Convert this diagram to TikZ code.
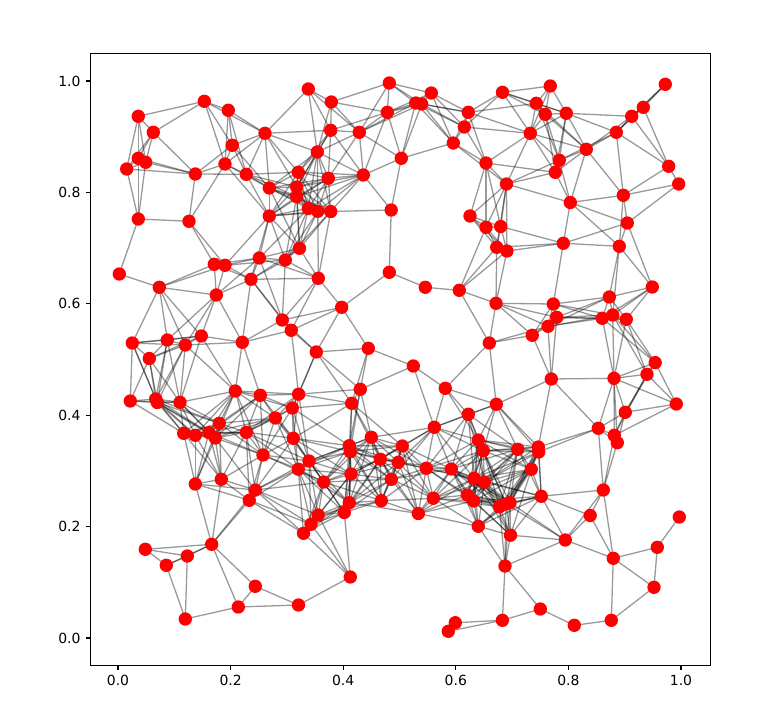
\documentclass[tikz,border=0pt]{standalone}
\usepackage{fontspec}
\setmainfont{DejaVu Sans}
\usepackage{tikz}
\usetikzlibrary{backgrounds}
\definecolor{pred}{HTML}{FF0000}
\newdimen\gdx
\newdimen\gdy

\begin{document}
\begin{tikzpicture}[x=0.03cm,y=-0.03cm,
    dot/.style={circle,fill=pred,inner sep=0pt,minimum size=0.4cm},
    link/.style={black,opacity=0.4,line width=1.1pt},
    axline/.style={black,line width=0.95pt},
    ticklabel/.style={font=\fontsize{11.9}{14}\selectfont,inner sep=0pt}]
  \useasboundingbox (0,0) rectangle (771,727);

  % Axes frame
  \draw[axline] (90.5,53.3) rectangle (710.3,665.5);

  % Ticks and labels
  \foreach \v [count=\k] in {0.0,0.2,0.4,0.6,0.8,1.0} {
    \pgfmathsetmacro\tx{118+563*\v}
    \pgfmathsetmacro\ty{638-557*\v}
    \draw[axline] (\tx,665.5) -- ++(0,4.9);
    \draw[axline] (90.5,\ty) -- ++(-4.9,0);
    \node[ticklabel,anchor=north] (xl\k) at (\tx,675.3) {\v};
    \node[ticklabel,anchor=east] (yl\k) at (80.7,\ty) {\v};
  }

  % Points (image pixels)
  \foreach \x/\y [count=\k] in {
      204.3/101.3, 138.3/116.3, 228.3/110.3, 153.3/132.3, 265/133.3, 232.3/145.3,
      138.3/158.3, 145.7/162.3, 126.7/169, 225/164, 195.3/174, 246.3/174.3,
      298.3/172.3, 269.3/188, 296.7/187, 296.7/196.7, 269.3/216, 308.3/89,
      389.3/83, 431.3/93, 502.5/92.3, 331.3/102, 415.7/103, 421.7/104,
      468.3/112.3, 387.3/112.3, 464.3/127, 330.7/130.3, 359.3/132.3, 453.3/143,
      317.3/152, 401.3/158.3, 486/163, 328.3/178.3, 363.3/175, 506.5/184,
      308.3/208.5, 317.8/211.3, 330.7/211.5, 391.2/210,
      550.3/86, 665.3/84.3, 536.3/103.3, 545.3/114.3, 566.3/113.3, 643.3/107.3,
      631.7/116.3, 530.3/133.3, 616.3/132.3, 586.3/149.3, 559.3/160.3, 555.3/172.3,
      668.7/166.3, 678.7/184, 623.3/195.3, 570.3/202.5,
      138.3/219, 189/221.3, 299.5/248.3, 119.3/274, 214.3/264.3, 225/265.3,
      259.3/258, 285.3/260, 251/279.3, 159.3/287.3, 216.3/295, 282.3/320,
      291.3/330.3, 132.3/343, 167.3/340, 185.3/345, 201.3/336, 242.3/342.3, 149.3/358.5,
      470/216, 486/227.3, 500.7/226.5, 496.7/247.3, 506.9/251, 389.3/272.3,
      318.3/278.3, 425.3/287.3, 459.3/290.3, 341.7/307.3, 496/303.3, 489.3/343,
      316.3/352, 368.3/348.3, 413.3/366,
      627.3/223, 563.3/243.3, 619.3/246.3, 652.3/287, 609.3/297, 553.3/304,
      556.7/317.3, 548/326.3, 532.3/335.3, 602.3/318.3, 612.7/315, 626.3/319.3, 655.2/362.6,
      130.3/401, 155.7/399, 157.3/402.5, 180/402.3, 235.3/391, 260.3/395.3,
      298.6/394.2, 292.3/408, 275.3/418, 219.3/423.3, 183.7/433.3, 195.3/435.3,
      209/432.7, 215.3/438, 246.3/432.3, 263/455, 293.3/438.3, 298.3/469.2,
      195.3/484, 221.3/479.3, 255.3/490, 249.3/500.3,
      360.3/389.3, 445.3/388.3, 496.3/404.3, 351.7/403.3, 468.3/414.3, 434.3/427.3,
      371.3/437.3, 478.3/440, 483.3/450.7, 349.3/445.7, 350.3/451.7, 402.3/446,
      380.3/459.3, 398.3/462.3, 309/461, 426.3/468.3, 451.3/469, 351/474,
      323.7/482, 391.3/479.3, 474/478.3, 484.3/482, 467.3/495, 473.7/501,
      349.3/502.7, 381.3/500.7, 433.3/498.3, 499.5/506.7, 506/504, 318.2/515,
      344.3/512.5, 418.3/513.5,
      551.3/379, 614/378.3, 647/374.3, 676.3/404, 625.3/412.3, 598.3/428.3,
      614.3/435.3, 617.3/442.7, 517.7/449.3, 538.3/447, 538.7/452, 531.3/469.3,
      603.3/490, 541.3/496.3, 510/502.7, 590.2/515.5, 679.3/517,
      303.5/533.3, 211.7/544.3, 145.3/549.3, 187.3/556, 166.3/565.3, 255.3/586.3,
      238.3/607, 298.5/605, 185.3/619,
      311/524.3, 478.3/526.3, 510.5/535.2, 350.3/577, 505/566, 502.4/620.3,
      455.3/622.7, 448.3/631.3,
      565.3/540, 657.3/547.3, 613.3/558.3, 654/587.3, 540.3/609, 574.3/625.3, 611.3/620.3} {
    \node[dot] (n\k) at (\x,\y) {};
    \expandafter\xdef\csname px\k\endcsname{\x}
    \expandafter\xdef\csname py\k\endcsname{\y}
    \xdef\npts{\k}
  }

  % Edges: pairs closer than radius 0.125
  \begin{scope}[on background layer]
    \foreach \i in {2,...,\npts} {
      \pgfmathtruncatemacro\last{\i-1}
      \foreach \j in {1,...,\last} {
        \gdx=\csname px\i\endcsname pt \advance\gdx by -\csname px\j\endcsname pt
        \gdy=\csname py\i\endcsname pt \advance\gdy by -\csname py\j\endcsname pt
        \ifdim\gdx<0pt \gdx=-\gdx \fi
        \ifdim\gdy<0pt \gdy=-\gdy \fi
        \ifdim\gdx<71pt \ifdim\gdy<71pt
          \pgfmathsetmacro\dd{veclen(\gdx,1.0108*\gdy)}
          \ifdim\dd pt<70.4pt
            \draw[link] (n\i.center) -- (n\j.center);
          \fi
        \fi \fi
      }
    }
  \end{scope}
\end{tikzpicture}
\end{document}
